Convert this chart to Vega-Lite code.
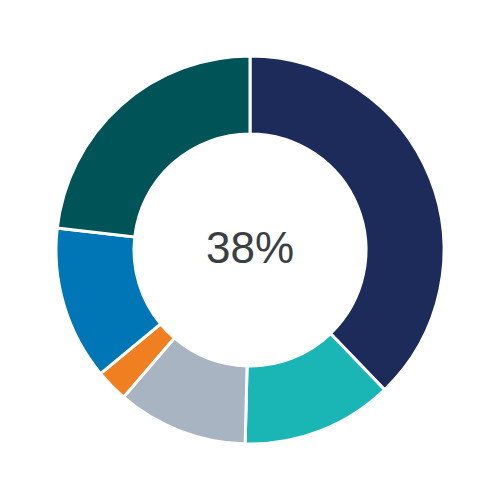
{
  "$schema": "https://vega.github.io/schema/vega-lite/v6.json",
  "width": 500,
  "height": 500,
  "autosize": {"type": "fit", "contains": "padding"},
  "padding": 0,
  "background": "white",
  "view": {"stroke": null},
  "layer": [
    {
      "data": {
        "values": [
          {"segment": "A", "order": 1, "value": 37.8},
          {"segment": "B", "order": 2, "value": 12.6},
          {"segment": "C", "order": 3, "value": 10.9},
          {"segment": "D", "order": 4, "value": 2.7},
          {"segment": "E", "order": 5, "value": 12.8},
          {"segment": "F", "order": 6, "value": 23.2}
        ]
      },
      "mark": {"type": "arc", "outerRadius": 194, "innerRadius": 116, "stroke": "white", "strokeWidth": 3},
      "encoding": {
        "theta": {"field": "value", "type": "quantitative", "stack": true},
        "order": {"field": "order", "type": "quantitative"},
        "color": {
          "field": "segment",
          "type": "nominal",
          "scale": {
            "domain": ["A", "B", "C", "D", "E", "F"],
            "range": ["#1c2b5a", "#1ab6b6", "#a9b4c3", "#f07f22", "#0076b6", "#005457"]
          },
          "legend": null
        }
      }
    },
    {
      "data": {"values": [{"label": "38%"}]},
      "mark": {"type": "text", "fontSize": 44, "font": "Liberation Sans", "color": "#3a3f44", "align": "center", "baseline": "middle"},
      "encoding": {"text": {"field": "label"}}
    }
  ]
}
